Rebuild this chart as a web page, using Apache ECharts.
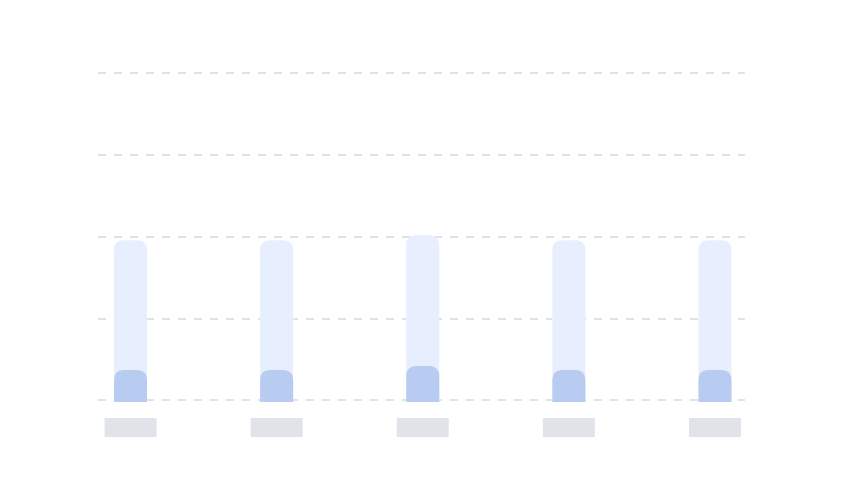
<!DOCTYPE html>
<html>
<head>
<meta charset="utf-8">
<script src="https://cdn.jsdelivr.net/npm/echarts@6/dist/echarts.min.js"></script>
<style>
  html, body { margin: 0; padding: 0; background: #fff; }
  #main { width: 848px; height: 502px; }
</style>
</head>
<body>
<div id="main"></div>
<script>
// skeleton placeholder chart
var categories = ['c1', 'c2', 'c3', 'c4', 'c5'];
var trackValues = [49.5, 49.5, 51, 49.5, 49.5];
var fillValues = [9.8, 9.8, 11, 9.8, 9.8];
var yTicks = [0, 25, 50, 75, 100];

var chart = echarts.init(document.getElementById('main'));

chart.setOption({
    animation: false,
    grid: [
        { left: 98, right: 103, top: 73, bottom: 102 },   // grid lines only
        { left: 57.5, right: 60, top: 75, bottom: 100 }   // bars
    ],
    xAxis: [
        { gridIndex: 0, type: 'category', data: categories, show: false },
        {
            gridIndex: 1,
            type: 'category',
            data: categories,
            axisLine: { show: false },
            axisTick: { show: false },
            axisLabel: {
                margin: 16,
                color: 'rgba(0,0,0,0)',
                backgroundColor: '#e0e4ea',
                width: 52,
                height: 19,
                lineHeight: 19,
                align: 'center',
                fontSize: 10
            }
        }
    ],
    yAxis: [
        {
            gridIndex: 0,
            type: 'value',
            min: yTicks[0],
            max: yTicks[yTicks.length - 1],
            interval: 25,
            axisLine: { show: false },
            axisTick: { show: false },
            axisLabel: { show: false },
            splitLine: {
                lineStyle: { color: '#dfe2e7', width: 2, type: [8, 8] }
            }
        },
        {
            gridIndex: 1,
            type: 'value',
            min: yTicks[0],
            max: yTicks[yTicks.length - 1],
            show: false,
            splitLine: { show: false }
        }
    ],
    series: [
        {
            type: 'bar',
            xAxisIndex: 1,
            yAxisIndex: 1,
            data: trackValues,
            barWidth: 33,
            barGap: '-100%',
            itemStyle: { color: '#e7eefd', borderRadius: [9, 9, 0, 0] },
            silent: true
        },
        {
            type: 'bar',
            xAxisIndex: 1,
            yAxisIndex: 1,
            data: fillValues,
            barWidth: 33,
            barGap: '-100%',
            itemStyle: { color: '#b8ccf2', borderRadius: [9, 9, 0, 0] },
            silent: true
        }
    ]
});
</script>
</body>
</html>
